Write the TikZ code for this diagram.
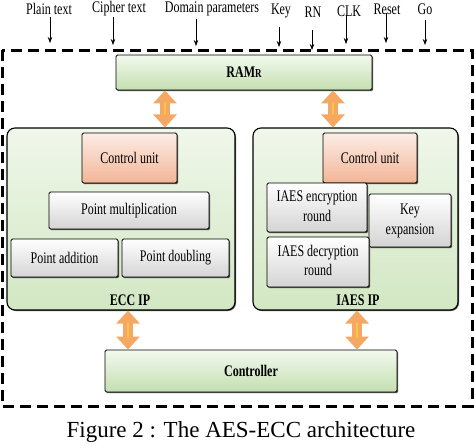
\documentclass[tikz,border=0pt]{standalone}
\usepackage{fontspec}
\setmainfont{Liberation Serif}
\usepackage{graphicx}
\usepackage{tikz}
\usetikzlibrary{positioning,arrows.meta,shadows}

\definecolor{ramtop}{HTML}{F3F9EF}
\definecolor{rambot}{HTML}{C3DFAF}
\definecolor{iptop}{HTML}{F0F7EB}
\definecolor{ipbot}{HTML}{D2E7C3}
\definecolor{cutop}{HTML}{FCEDE6}
\definecolor{cubot}{HTML}{F2B596}
\definecolor{boxgray}{HTML}{D4D4D4}
\definecolor{busorange}{HTML}{F5A862}
\definecolor{busyellow}{HTML}{FBC34A}

\newcommand{\tall}[1]{\scalebox{1}[1.35]{#1}}
\newcommand{\twolines}[2]{\tall{\begin{tabular}{@{}c@{}}#1\\#2\end{tabular}}}

\tikzset{
    block/.style={draw=black, line width=0.9pt, rounded corners=1.5pt,
        top color=white, bottom color=boxgray, inner sep=0pt, align=center,
        font=\fontsize{12}{14.4}\selectfont,
        drop shadow={shadow xshift=1.2pt, shadow yshift=-1.2pt, fill=black!85, opacity=0.8}},
    cublock/.style={block, top color=cutop, bottom color=cubot},
    ramblock/.style={block, top color=ramtop, bottom color=rambot, font=\fontsize{12}{14}\bfseries},
    ipbox/.style={draw=black, line width=1.1pt, rounded corners=8pt,
        top color=iptop, bottom color=ipbot,
        drop shadow={shadow xshift=1pt, shadow yshift=-1pt, fill=black!85, opacity=0.8}},
    iplabel/.style={font=\fontsize{12}{14}\bfseries},
    toplabel/.style={font=\fontsize{12}{14}\selectfont, inner sep=0pt},
    sig/.style={-{Stealth[length=6pt,width=4.5pt]}, line width=0.7pt},
    bus/.style={draw=busorange, line width=10pt,
        {Triangle[width=23pt,length=13pt]}-{Triangle[width=23pt,length=13pt]}},
    busline/.style={draw=busyellow, line width=2.5pt, shorten <=12pt, shorten >=12pt}
}

\begin{document}
\begin{tikzpicture}[x=1pt, y=-1pt]
            \useasboundingbox (0,0) rectangle (474,445);

            \draw[line width=3pt, dash pattern=on 11pt off 6pt] (2,50) rectangle (472,406);

            \foreach \lab/\lx/\ly/\ax/\ys/\ye [count=\i] in {Plain text/49/9/50/17/43,
                Cipher text/119/9/113/17/45, Domain parameters/212/9/196/19/46,
                Key/281/11/279/27/47, RN/313/12/312/30/50, CLK/349/11/346/15/44,
                Reset/387/9/386/13/43, Go/425/9/425/20/45} {
                \node[toplabel] (in\i) at (\lx,\ly) {\tall{\lab}};
                \coordinate (src\i) at (\ax,\ys);
                \coordinate (pin\i) at (\ax,\ye);
                \draw[sig] (src\i) -- (pin\i);
            }

            \node[ramblock, minimum width=256pt, minimum height=35pt] (ramr) at (244,72.5) {\tall{RAM{\fontsize{9}{10}\selectfont R}}};

            \node[ipbox, minimum width=228pt, minimum height=182pt] (ecc) at (121,219) {};
            \node[ipbox, minimum width=205pt, minimum height=182pt] (iaes) at (355.5,219) {};

            \node[cublock, minimum width=95pt, minimum height=50pt] (ecccu) at (129.5,158) {\tall{Control unit}};
            \node[block, minimum width=160pt, minimum height=37pt] (pmul) at (129,210.5) {\tall{Point multiplication}};
            \node[block, minimum width=107pt, minimum height=38pt] (padd) at (64.5,258) {\tall{Point addition}};
            \node[block, minimum width=107pt, minimum height=38pt] (pdbl) at (175.5,258) {\tall{Point doubling}};
            \node[iplabel] (ecclab) at (130,300) {\tall{ECC IP}};

            \node[cublock, minimum width=94pt, minimum height=50pt] (iaescu) at (370,158) {\tall{Control unit}};
            \node[block, minimum width=100pt, minimum height=49pt] (enc) at (317,207.5) {\twolines{IAES encryption}{round}};
            \node[block, minimum width=82pt, minimum height=53pt] (keyx) at (410,220.5) {\twolines{Key}{expansion}};
            \node[block, minimum width=102pt, minimum height=50pt] (dec) at (318,262) {\twolines{IAES decryption}{round}};
            \node[iplabel] (iaeslab) at (358,300) {\tall{IAES IP}};

            \node[ramblock, minimum width=292pt, minimum height=42pt] (ctrl) at (251,371) {\tall{Controller}};

            \coordinate (b1) at (165,0);
            \coordinate (b2) at (333,0);
            \coordinate (b3) at (128,0);
            \coordinate (b4) at (357,0);
            \draw[bus] (ramr.south -| b1) -- (ecc.north -| b1);
            \draw[bus] (ramr.south -| b2) -- (iaes.north -| b2);
            \draw[bus] (ecc.south -| b3) -- (ctrl.north -| b3);
            \draw[bus] (iaes.south -| b4) -- (ctrl.north -| b4);
            \draw[busline] (ramr.south -| b1) -- (ecc.north -| b1);
            \draw[busline] (ramr.south -| b2) -- (iaes.north -| b2);
            \draw[busline] (ecc.south -| b3) -- (ctrl.north -| b3);
            \draw[busline] (iaes.south -| b4) -- (ctrl.north -| b4);

            \node[font=\fontsize{23}{27}\selectfont] (cap) at (241,432) {Figure 2 : The AES-ECC architecture};
        \end{tikzpicture}
\end{document}
